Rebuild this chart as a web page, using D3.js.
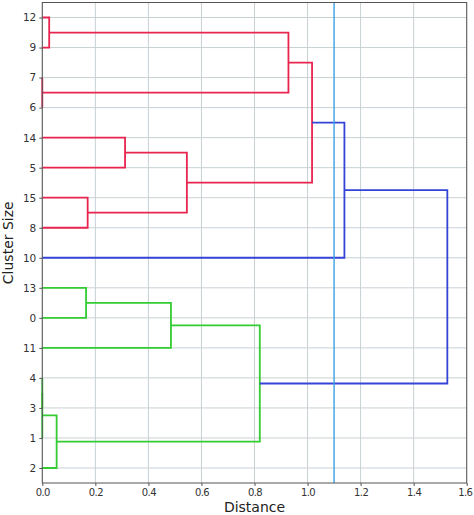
<!DOCTYPE html>
<html>
<head>
<meta charset="utf-8">
<script src="https://cdn.jsdelivr.net/npm/d3@7"></script>
<style>
  body { margin: 0; background: #fff; }
  svg text { font-family: "DejaVu Sans", sans-serif; }
  .axis path, .axis line { stroke: #555; }
  .axis text { fill: #333; font-size: 10.5px; }
  .x.axis text { font-size: 10px; letter-spacing: -0.6px; }
</style>
</head>
<body>
<div id="chart"></div>
<script>
// leaves from top to bottom
const leafLabels = ["12", "9", "7", "6", "14", "5", "15", "8", "10", "13", "0", "11", "4", "3", "1", "2"]

// merges: [left child, right child, distance, cluster colour]; "nK" is merge K
const mergeA = ["12", "7", "n0", "14", "15", "n3", "n2", "n6", "13", "n8", "4", "n10", "n11", "n9", "n7"]
const mergeB = ["9", "6", "n1", "5", "8", "n4", "n5", "10", "0", "11", "3", "1", "2", "n12", "n13"]
const mergeDist = [0.026, 0.0, 0.928, 0.312, 0.171, 0.545, 1.017, 1.139, 0.165, 0.485, 0.0, 0.0, 0.054, 0.82, 1.527]
const mergeGroup = ["red", "red", "red", "red", "red", "red", "red", "blue", "green", "green", "green", "green", "green", "green", "blue"]

const xTicks = [0, 0.2, 0.4, 0.6, 0.8, 1.0, 1.2, 1.4, 1.6]
const cutDistance = 1.1

const colors = { red: "#e8244f", green: "#33cc33", blue: "#3444d8" }

const width = 474, height = 515
const margin = { top: 2.5, right: 7.3, bottom: 32, left: 42.3 }

const svg = d3.select("#chart").append("svg")
    .attr("width", width)
    .attr("height", height)

const x = d3.scaleLinear().domain([0, 1.6]).range([margin.left, width - margin.right])
const y = d3.scaleLinear().domain([0, leafLabels.length * 10]).range([margin.top, height - margin.bottom])

// grid
svg.append("g").selectAll("line")
    .data(xTicks)
    .enter().append("line")
    .attr("x1", d => x(d)).attr("x2", d => x(d))
    .attr("y1", y(0)).attr("y2", y(160))
    .attr("stroke", "#c8d0d4").attr("stroke-width", 1)

svg.append("g").selectAll("line")
    .data(leafLabels)
    .enter().append("line")
    .attr("x1", x(0)).attr("x2", x(1.6))
    .attr("y1", (d, i) => y(i * 10 + 5)).attr("y2", (d, i) => y(i * 10 + 5))
    .attr("stroke", "#c8d0d4").attr("stroke-width", 1)

// node positions (scipy style: mean of children)
const pos = {}
leafLabels.forEach((l, i) => { pos[l] = { y: i * 10 + 5, d: 0 } })
const links = mergeA.map((a, i) => {
    const b = mergeB[i]
    const node = { y: (pos[a].y + pos[b].y) / 2, d: mergeDist[i] }
    pos["n" + i] = node
    return { a: pos[a], b: pos[b], d: mergeDist[i], color: colors[mergeGroup[i]] }
})

svg.append("g").selectAll("path")
    .data(links)
    .enter().append("path")
    .attr("fill", "none")
    .attr("stroke", d => d.color)
    .attr("stroke-width", 1.8)
    .attr("d", d => {
        const p = d3.path()
        p.moveTo(x(d.a.d), y(d.a.y))
        p.lineTo(x(d.d), y(d.a.y))
        p.lineTo(x(d.d), y(d.b.y))
        p.lineTo(x(d.b.d), y(d.b.y))
        return p.toString()
    })

// cut line
svg.append("line")
    .attr("x1", x(cutDistance)).attr("x2", x(cutDistance))
    .attr("y1", y(0)).attr("y2", y(160))
    .attr("stroke", "#3aa0e2").attr("stroke-width", 1.4)

// frame
svg.append("rect")
    .attr("x", x(0)).attr("y", y(0))
    .attr("width", x(1.6) - x(0)).attr("height", y(160) - y(0))
    .attr("fill", "none").attr("stroke", "#555").attr("stroke-width", 1)

// axes
svg.append("g")
    .attr("class", "x axis")
    .attr("transform", `translate(0,${y(160)})`)
    .call(d3.axisBottom(x).tickValues(xTicks).tickFormat(d3.format(".1f")).tickSize(3).tickPadding(3))
    .call(g => g.select(".domain").remove())
    .call(g => g.selectAll(".tick:last-of-type text").attr("dx", "-2"))

svg.append("g")
    .attr("class", "y axis")
    .attr("transform", `translate(${x(0)},0)`)
    .call(d3.axisLeft(y).tickValues(leafLabels.map((l, i) => i * 10 + 5))
        .tickFormat((d, i) => leafLabels[i]).tickSize(3).tickPadding(3))
    .call(g => g.select(".domain").remove())

svg.append("text")
    .attr("x", (x(0) + x(1.6)) / 2)
    .attr("y", 512)
    .attr("text-anchor", "middle")
    .attr("font-size", 14)
    .attr("fill", "#222")
    .text("Distance")

svg.append("text")
    .attr("transform", `translate(13,${(y(0) + y(160)) / 2}) rotate(-90)`)
    .attr("text-anchor", "middle")
    .attr("font-size", 14)
    .attr("fill", "#222")
    .text("Cluster Size")
</script>
</body>
</html>
